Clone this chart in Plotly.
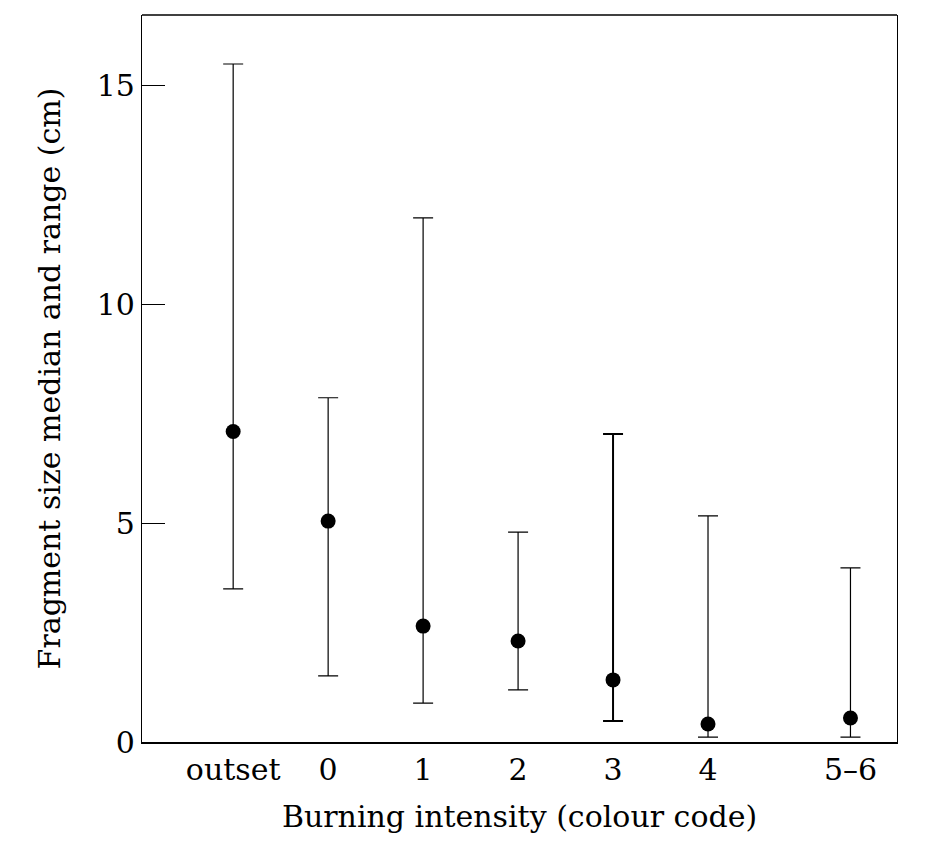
import plotly.graph_objects as go

categories = ["outset", "0", "1", "2", "3", "4", "5–6"]
x_pos = [-1, 0, 1, 2, 3, 4, 5.5]
median = [7.1, 5.05, 2.65, 2.31, 1.42, 0.41, 0.55]
range_low = [3.5, 1.51, 0.89, 1.19, 0.48, 0.11, 0.11]
range_high = [15.5, 7.87, 11.98, 4.80, 7.04, 5.17, 3.98]
y_ticks = [0, 5, 10, 15]

FONT = "DejaVu Serif"
FS = 30

fig = go.Figure()

thick = [c == "3" for c in categories]
for is_thick in (False, True):
    idx = [i for i, t in enumerate(thick) if t == is_thick]
    fig.add_trace(go.Scatter(
        x=[x_pos[i] for i in idx],
        y=[median[i] for i in idx],
        mode="markers",
        marker=dict(color="black", size=15),
        error_y=dict(
            type="data",
            symmetric=False,
            array=[range_high[i] - median[i] for i in idx],
            arrayminus=[median[i] - range_low[i] for i in idx],
            color="black",
            thickness=2 if is_thick else 1.2,
            width=10,
        ),
        showlegend=False,
        hoverinfo="skip",
    ))

fig.add_shape(type="line", xref="paper", yref="paper", x0=0, x1=1, y0=1, y1=1,
              line=dict(color="black", width=1.3))

fig.update_layout(
    width=925, height=850,
    margin=dict(l=142, r=28, t=15, b=108),
    paper_bgcolor="white", plot_bgcolor="white",
    font=dict(family=FONT, color="black", size=FS),
    xaxis=dict(
        range=[-1.96, 5.99],
        tickmode="array", tickvals=x_pos, ticktext=categories,
        showgrid=False, zeroline=False,
        showline=True, linecolor="black", linewidth=2,
        ticks="", tickfont=dict(size=FS),
        title=dict(text="Burning intensity (colour code)", font=dict(size=FS), standoff=20),
    ),
    yaxis=dict(
        range=[0, 16.62],
        tickmode="array", tickvals=y_ticks,
        showgrid=False, zeroline=False,
        showline=True, linecolor="black", linewidth=1.3, mirror=True,
        ticks="inside", ticklen=23, tickwidth=1, tickcolor="black",
        tickfont=dict(size=FS),
        title=dict(text="Fragment size median and range (cm)", font=dict(size=FS), standoff=27),
    ),
)

fig.write_html("out.html")
